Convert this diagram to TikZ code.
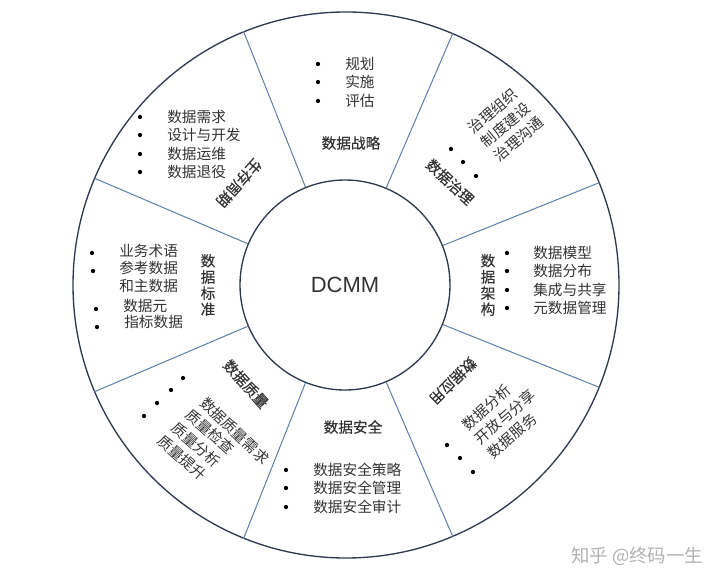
\documentclass[tikz,border=0pt]{standalone}
\usepackage{fontspec}
\usetikzlibrary{calc}
\setmainfont{Noto Sans CJK SC}
\newfontfamily\latinf{Liberation Sans}
\newfontfamily\boldish[FakeBold=0.3]{Noto Sans CJK SC}
\definecolor{ringc}{HTML}{2F3A4F}
\definecolor{spokec}{HTML}{5B7FA8}
\definecolor{txtc}{HTML}{333333}
\tikzset{
  ringline/.style={draw=ringc,line width=1pt},
  spoke/.style={draw=spokec,line width=0.75pt},
  lbl/.style={font=\fontsize{11pt}{13pt}\selectfont,text=txtc,inner sep=0pt,anchor=west},
  ttl/.style={font=\boldish\fontsize{11pt}{13pt}\selectfont,text=txtc,inner sep=0pt},
  dot/.style={circle,fill=black,inner sep=0pt,minimum size=3.2pt},
  wm/.style={font=\fontsize{13.8pt}{15pt}\selectfont,text=black!30,inner sep=0pt,anchor=west}
}
\newcommand{\vt}[4]{\shortstack[c]{#1\\[-1pt]#2\\[-1pt]#3\\[-1pt]#4}}
\begin{document}
\begin{tikzpicture}[x=0.75pt,y=-0.75pt]
\useasboundingbox (0,0) rectangle (722,585);
\coordinate (c) at (346,285);
\node[circle,ringline,minimum size=409.5pt,inner sep=0pt] (outer) at (c) {};
\node[circle,ringline,minimum size=157.5pt,inner sep=0pt,text=txtc,
  font=\latinf\fontsize{16.5pt}{20pt}\selectfont] (core) at (345,285) {DCMM};
\foreach \a in {67.5,22.5,-22.5,-67.5,-112.5,-157.5,157.5,112.5}{
  \draw[spoke] (core.\a) -- (outer.\a);
}
% top sector
\node[dot] (d11) at (318,64) {}; \node[lbl] (t11) at (345,64) {规划};
\node[dot] (d12) at (318,82) {}; \node[lbl] (t12) at (345,82) {实施};
\node[dot] (d13) at (318,101) {}; \node[lbl] (t13) at (345,101) {评估};
\node[ttl] (h1) at (351,143) {数据战略};
% governance
\node[dot] (d21) at (451,149) {}; \node[lbl,rotate=40] (t21) at (470,130) {治理组织};
\node[dot] (d22) at (463,162) {}; \node[lbl,rotate=40] (t22) at (483,144) {制度建设};
\node[dot] (d23) at (476,176) {}; \node[lbl,rotate=40] (t23) at (496,158) {治理沟通};
\node[ttl,rotate=-43] (h2) at (450,182) {数据治理};
% architecture
\node[dot] (d31) at (507,253) {}; \node[lbl] (t31) at (533,253) {数据模型};
\node[dot] (d32) at (507,271) {}; \node[lbl] (t32) at (533,271) {数据分布};
\node[dot] (d33) at (507,290) {}; \node[lbl] (t33) at (533,290) {集成与共享};
\node[dot] (d34) at (507,308) {}; \node[lbl] (t34) at (533,308) {元数据管理};
\node[ttl] (h3) at (488,285) {\vt{数}{据}{架}{构}};
% application
\node[dot] (d41) at (447,445) {}; \node[lbl,rotate=43] (t41) at (465,428) {数据分析};
\node[dot] (d42) at (460,458) {}; \node[lbl,rotate=41] (t42) at (477,441) {开放与分享};
\node[dot] (d43) at (473,472) {}; \node[lbl,rotate=41] (t43) at (490,455) {数据服务};
\node[ttl,rotate=225] (h4) at (453,381) {数据应用};
% security
\node[dot] (d51) at (286,470) {}; \node[lbl] (t51) at (313,470) {数据安全策略};
\node[dot] (d52) at (286,488) {}; \node[lbl] (t52) at (313,488) {数据安全管理};
\node[dot] (d53) at (286,507) {}; \node[lbl] (t53) at (313,507) {数据安全审计};
\node[ttl] (h5) at (353,427) {数据安全};
% quality
\node[dot] (d61) at (183,378) {}; \node[lbl,rotate=-44] (t61) at (203,400) {数据质量需求};
\node[dot] (d62) at (171,390) {}; \node[lbl,rotate=-42] (t62) at (188,412) {质量检查};
\node[dot] (d63) at (157,403) {}; \node[lbl,rotate=-42] (t63) at (174,425) {质量分析};
\node[dot] (d64) at (144,416) {}; \node[lbl,rotate=-42] (t64) at (160,438) {质量提升};
\node[ttl,rotate=-48] (h6) at (246,384) {数据质量};
% standards
\node[dot] (d71) at (92,253) {}; \node[lbl] (t71) at (119,251) {业务术语};
\node[dot] (d72) at (93,271) {}; \node[lbl] (t72) at (119,268) {参考数据};
\node[lbl] (t72b) at (119,286) {和主数据};
\node[dot] (d73) at (96,309) {}; \node[lbl] (t73) at (123,306) {数据元};
\node[dot] (d74) at (97,327) {}; \node[lbl] (t74) at (124,322) {指标数据};
\node[ttl] (h7) at (208,285) {\vt{数}{据}{标}{准}};
% lifecycle
\node[dot] (d81) at (140,117) {}; \node[lbl] (t81) at (167,117) {数据需求};
\node[dot] (d82) at (140,135) {}; \node[lbl] (t82) at (167,135) {设计与开发};
\node[dot] (d83) at (140,154) {}; \node[lbl] (t83) at (167,154) {数据运维};
\node[dot] (d84) at (140,172) {}; \node[lbl] (t84) at (167,172) {数据退役};
\node[ttl,rotate=-132] (h8) at (239,183) {生存周期};
% watermark
\node[wm] (wm1) at (571,556) {知乎 @终码一生};
\end{tikzpicture}
\end{document}
